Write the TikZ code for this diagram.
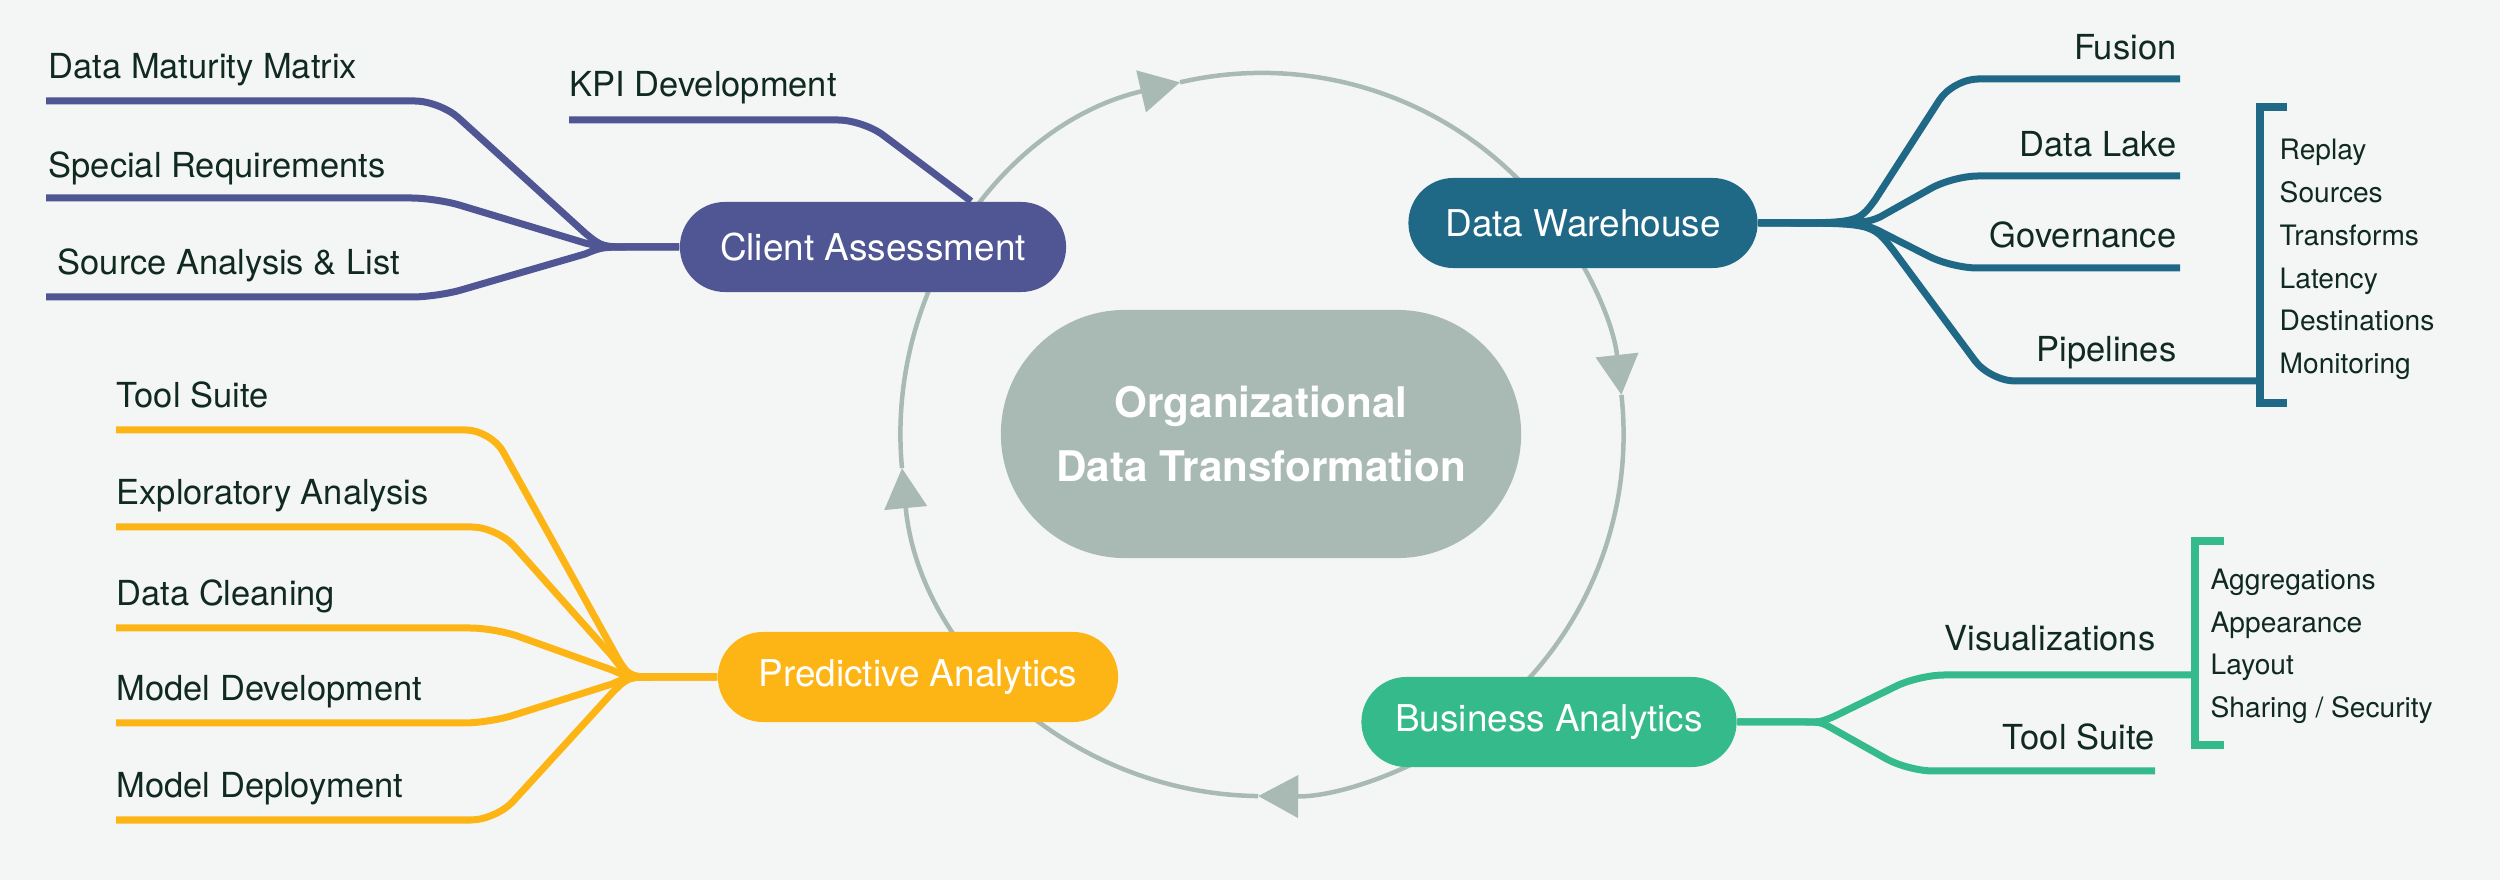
\documentclass[tikz,border=0pt]{standalone}
\usepackage{fontspec}
\setmainfont{TeX Gyre Heros}
\usetikzlibrary{arrows.meta,shapes.misc,backgrounds}
\definecolor{bgcol}{HTML}{F4F6F5}
\definecolor{hubcol}{HTML}{A9BAB4}
\definecolor{cacol}{HTML}{505694}
\definecolor{dwcol}{HTML}{1F6987}
\definecolor{pacol}{HTML}{FDB515}
\definecolor{bacol}{HTML}{34BA8B}
\definecolor{txtcol}{HTML}{102A20}
\tikzset{
topic/.style={rounded rectangle,fill=#1,text=white,minimum height=0.9cm,inner sep=0pt,font=\fontsize{10.5}{12}\selectfont},
leaf/.style={text=txtcol,inner sep=0pt,font=\fontsize{9.8}{12}\selectfont},
subitem/.style={text=txtcol,inner sep=0pt,anchor=base west,font=\fontsize{8}{10}\selectfont},
branch/.style={draw=#1,line width=0.07cm},
softturn/.style={rounded corners=0.25cm},
bracket/.style={draw=#1,line width=0.08cm},
ringarrow/.style={draw=hubcol,line width=0.045cm,-{Triangle[length=0.4cm,width=0.42cm]}}
}
\begin{document}
\begin{tikzpicture}[x=0.01cm,y=-0.01cm]
\useasboundingbox(0,0)rectangle(2500,880);
\node[topic=hubcol,minimum width=5.2cm,minimum height=2.48cm,align=center,font=\bfseries\fontsize{12}{18.3}\selectfont](core)at(1261,434){Organizational\\Data Transformation};
\node[topic=cacol,minimum width=3.86cm](ca)at(873,247){Client Assessment};
\node[topic=dwcol,minimum width=3.49cm](dw)at(1583,223){Data Warehouse};
\node[topic=pacol,minimum width=4cm](pa)at(918,677){Predictive Analytics};
\node[topic=bacol,minimum width=3.75cm](ba)at(1549,722){Business Analytics};
\node[leaf,anchor=base west](dmm)at(48,79){Data Maturity Matrix};
\node[leaf,anchor=base west](sreq)at(48,178){Special Requirements};
\node[leaf,anchor=base west](src)at(57,275){Source Analysis \& List};
\node[leaf,anchor=base west](kpi)at(569,97){KPI Development};
\node[leaf,anchor=base west](pts)at(116,408){Tool Suite};
\node[leaf,anchor=base west](expl)at(116,505){Exploratory Analysis};
\node[leaf,anchor=base west](clean)at(116,606){Data Cleaning};
\node[leaf,anchor=base west](mdev)at(116,701){Model Development};
\node[leaf,anchor=base west](mdep)at(116,798){Model Deployment};
\node[leaf,anchor=base east](fus)at(2177,60){Fusion};
\node[leaf,anchor=base east](lake)at(2177,157){Data Lake};
\node[leaf,anchor=base east](gov)at(2177,248){Governance};
\node[leaf,anchor=base east](pipe)at(2177,362){Pipelines};
\node[leaf,anchor=base east](vis)at(2156,651){Visualizations};
\node[leaf,anchor=base east](bts)at(2155,750){Tool Suite};
\foreach \t[count=\i from 0] in {Replay,Sources,Transforms,Latency,Destinations,Monitoring}
  \node[subitem](dw-\i)at(2279,160+42.7*\i){\t};
\foreach \t[count=\i from 0] in {Aggregations,Appearance,Layout,Sharing / Security}
  \node[subitem](ba-\i)at(2210,590+42.5*\i){\t};
\coordinate(cahub)at(634,247);
\coordinate(pahub)at(657,677);
\coordinate(dwhub)at(1772,223);
\coordinate(bahub)at(1803,722);
\coordinate(dmm-e)at(46,101);
\coordinate(sreq-e)at(46,198);
\coordinate(src-e)at(46,297);
\coordinate(kpi-e)at(569,120);
\coordinate(pts-e)at(116,430);
\coordinate(expl-e)at(116,527);
\coordinate(clean-e)at(116,628);
\coordinate(mdev-e)at(116,723);
\coordinate(mdep-e)at(116,820);
\coordinate(fus-e)at(2180,79);
\coordinate(lake-e)at(2180,176);
\coordinate(gov-e)at(2180,268);
\coordinate(pipe-e)at(2260,381);
\coordinate(vis-e)at(2195,675);
\coordinate(bts-e)at(2155,771);
\begin{scope}[on background layer]
\fill[bgcol](0,0)rectangle(2500,880);
\begin{scope}[shift={(1262,434.5)},x=0.01cm,y=0.01cm]
\draw[ringarrow](185.35:361.6)arc[start angle=185.35,end angle=103.1,radius=361.6];
\draw[ringarrow](103.1:361.6)arc[start angle=103.1,end angle=6.3,radius=361.6];
\draw[ringarrow](6.3:361.6)arc[start angle=6.3,end angle=-90.6,radius=361.6];
\draw[ringarrow](-90.6:361.6)arc[start angle=-90.6,end angle=-174.65,radius=361.6];
\end{scope}
\draw[branch=cacol](ca.west)--(cahub)..controls(602,247)..(585,233)[softturn]--(440,101)--(dmm-e);
\draw[branch=cacol](ca.west)--(cahub)..controls(602,247)..(585,243)[softturn]--(436,198)--(sreq-e);
\draw[branch=cacol](ca.west)--(cahub)..controls(602,247)..(585,254)[softturn]--(437,297)--(src-e);
\draw[branch=cacol](kpi-e)[softturn]--(863,120)--(ca.25);
\draw[branch=pacol](pa.west)--(pahub)..controls(628,677)..(612,648)[softturn]--(491,430)--(pts-e);
\draw[branch=pacol](pa.west)--(pahub)..controls(628,677)..(612,656)[softturn]--(497,527)--(expl-e);
\draw[branch=pacol](pa.west)--(pahub)..controls(628,677)..(612,670)[softturn]--(495,628)--(clean-e);
\draw[branch=pacol](pa.west)--(pahub)..controls(628,677)..(612,684)[softturn]--(489,723)--(mdev-e);
\draw[branch=pacol](pa.west)--(pahub)..controls(628,677)..(612,693)[softturn]--(496,820)--(mdep-e);
\draw[branch=dwcol](dw.east)--(dwhub)..controls(1858,223)..(1875,200)[softturn]--(1953,79)--(fus-e);
\draw[branch=dwcol](dw.east)--(dwhub)..controls(1866,223)..(1880,217)[softturn]--(1953,176)--(lake-e);
\draw[branch=dwcol](dw.east)--(dwhub)..controls(1864,223)..(1885,234)[softturn]--(1952,268)--(gov-e);
\draw[branch=dwcol](dw.east)--(dwhub)..controls(1872,223)..(1893,250)[softturn]--(1990,381)--(pipe-e);
\draw[branch=bacol](ba.east)--(bahub)..controls(1821,722)..(1835,716)[softturn]--(1919,675)--(vis-e);
\draw[branch=bacol](ba.east)--(bahub)..controls(1821,722)..(1835,730)[softturn]--(1908,771)--(bts-e);
\draw[bracket=dwcol](2287,107.5)--(pipe-e|-0,107.5)--(pipe-e|-0,403)--(2287,403);
\draw[bracket=bacol](2224,541.5)--(vis-e|-0,541.5)--(vis-e|-0,745)--(2224,745);
\end{scope}
\end{tikzpicture}
\end{document}
